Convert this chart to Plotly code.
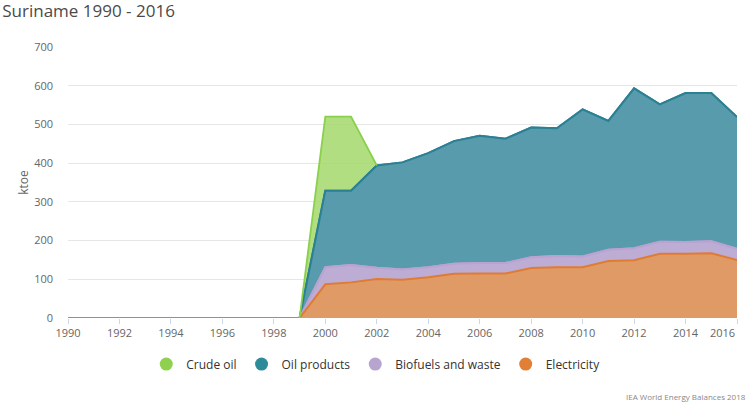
import plotly.graph_objects as go

years = list(range(1990, 2017))
electricity = [0]*10 + [87, 92, 101, 99, 105, 114, 115, 115, 129, 131, 131, 147, 149, 166, 166, 167, 150]
biofuels = [0]*10 + [44, 45, 29, 26, 26, 26, 27, 27, 28, 29, 28, 29, 31, 31, 30, 31, 29]
oil_products = [0]*10 + [198, 192, 264, 277, 295, 317, 329, 321, 335, 330, 380, 333, 413, 355, 385, 383, 340]
crude_oil = [0]*10 + [191, 191, 0] + [0]*14
tick_years = list(range(1990, 2017, 2))
tick_labels = [str(y) for y in tick_years]

series = [
    ("Electricity", electricity, "#e07b32", "rgba(227,152,90,0.9)", 3),
    ("Biofuels and waste", biofuels, "#b9a3d0", "rgba(190,172,212,0.9)", 2),
    ("Oil products", oil_products, "#2b8094", "rgba(86,154,172,0.9)", 1),
    ("Crude oil", crude_oil, "rgba(0,0,0,0)", "rgba(163,216,106,0.85)", 0),
]

fig = go.Figure()
for name, vals, lc, fc, z in series:
    fig.add_trace(go.Scatter(x=years, y=vals, name=name, stackgroup="one", mode="lines",
                             line=dict(color=lc, width=2 if z else 0), fillcolor=fc,
                             showlegend=False, zorder=z))

# crude oil top outline, only where crude oil is present (1999-2002)
totals = [e + b + o + c for e, b, o, c in zip(electricity, biofuels, oil_products, crude_oil)]
i0, i1 = years.index(1999), years.index(2002)
fig.add_trace(go.Scatter(x=years[i0:i1 + 1], y=totals[i0:i1 + 1], mode="lines",
                         line=dict(color="#8ad04c", width=1.8), showlegend=False, zorder=4))

legend_items = [("Crude oil", "#8fd14f"), ("Oil products", "#2e8b9a"),
                ("Biofuels and waste", "#b7a4cf"), ("Electricity", "#e07f35")]
for name, c in legend_items:
    fig.add_trace(go.Scatter(x=[None], y=[None], mode="markers", name=name,
                             marker=dict(color=c, size=13, symbol="circle")))

fig.update_layout(
    width=750, height=407,
    margin=dict(l=68, r=13, t=47, b=89),
    paper_bgcolor="white", plot_bgcolor="white",
    font=dict(family="Open Sans", color="#666666", size=11),
    title=dict(text="Suriname 1990 - 2016", x=0.003, xanchor="left", y=0.987, yanchor="top",
               font=dict(size=17, color="#4a4a4a", family="Open Sans")),
    legend=dict(orientation="h", x=0.46, xanchor="center", y=-0.17, yanchor="middle",
                font=dict(size=12, color="#333333"), itemwidth=30, traceorder="normal"),
    showlegend=True,
    annotations=[
        dict(text="IEA World Energy Balances 2018", xref="paper", yref="paper",
             x=1.016, xanchor="right", y=-0.288, yanchor="middle", showarrow=False,
             font=dict(size=8, color="#888888")),
        # last x tick label, kept inside the chart edge (as in the reference)
        dict(text=tick_labels[-1], xref="x", yref="paper", x=tick_years[-1], xanchor="right",
             y=0, yanchor="top", yshift=-5, showarrow=False,
             font=dict(size=11, color="#666666")),
    ],
)
fig.update_xaxes(range=[1990, 2016], tickmode="array", tickvals=tick_years,
                 ticktext=tick_labels[:-1] + [""],
                 showgrid=False, showline=True, linecolor="#ccd6eb", ticks="outside",
                 ticklen=5, tickcolor="#ccd6eb", zeroline=False, automargin=False,
                 tickfont=dict(size=11, color="#666666"))
fig.update_yaxes(range=[0, 700], tickvals=list(range(0, 701, 100)), showgrid=True,
                 gridcolor="#e6e6e6", zeroline=False, showline=False, automargin=False,
                 title=dict(text="ktoe", font=dict(size=12, color="#666666"), standoff=2),
                 tickfont=dict(size=11, color="#666666"), ticklabelstandoff=14)

fig.write_html("out.html")
